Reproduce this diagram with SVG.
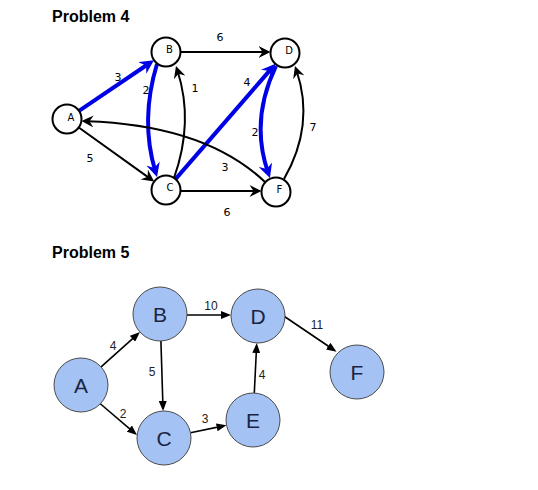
<svg xmlns="http://www.w3.org/2000/svg" width="538" height="490" viewBox="0 0 538 490">
<defs>
<style>
.title{font-family:"Liberation Sans",Arial,sans-serif;font-weight:bold;font-size:16px;fill:#000}
.n4{fill:#fff;stroke:#000;stroke-width:2}
.t4{font-family:"DejaVu Sans","Liberation Sans",sans-serif;font-size:10px;fill:#000;text-anchor:middle}
.l4{font-family:"DejaVu Sans","Liberation Sans",sans-serif;font-size:11px;fill:#000;text-anchor:middle}
.e4{fill:none;stroke:#000;stroke-width:2}
.b4{fill:none;stroke:#0000e6;stroke-width:4}
.n5{fill:#a4c2f4;stroke:#4a4a4a;stroke-width:1}
.t5{font-family:"Liberation Sans",Arial,sans-serif;font-size:21px;fill:#1b2542;text-anchor:middle}
.l5{font-family:"Liberation Sans",Arial,sans-serif;font-size:12px;fill:#222;text-anchor:middle}
.e5{fill:none;stroke:#000;stroke-width:1.6}
</style>
<marker id="ak" markerUnits="userSpaceOnUse" markerWidth="12" markerHeight="12" viewBox="0 0 12 12" refX="7" refY="6" orient="auto">
<path d="M0,0 L12,6 L0,12 L4,6 z" fill="#000"/>
</marker>
<marker id="ab" markerUnits="userSpaceOnUse" markerWidth="14" markerHeight="14" viewBox="0 0 14 14" refX="8" refY="7" orient="auto">
<path d="M0,0 L14,7 L0,14 L4.5,7 z" fill="#0000e6"/>
</marker>
<marker id="as" markerUnits="userSpaceOnUse" markerWidth="10" markerHeight="8" viewBox="0 0 10 8" refX="7" refY="4" orient="auto">
<path d="M0,0 L10,4 L0,8 z" fill="#000"/>
</marker>
</defs>
<rect width="538" height="490" fill="#fff"/>

<text class="title" x="52" y="22">Problem 4</text>
<text class="title" x="52" y="258">Problem 5</text>

<g id="connectors4">
<path class="b4" d="M79,110.9 L149,63.5" marker-end="url(#ab)"/>
<path class="e4" d="M78.8,127.5 L150.1,178.6" marker-end="url(#ak)"/>
<path class="e4" d="M181,52 L265.5,52" marker-end="url(#ak)"/>
<path class="e4" d="M180.5,191 L256.5,191" marker-end="url(#ak)"/>
<path class="b4" d="M175.5,179.1 L271.6,68.4" marker-end="url(#ab)"/>
<path class="b4" d="M157,64 Q140,120 155.3,171.3" marker-end="url(#ab)"/>
<path class="e4" d="M174,178 Q194,122 177.5,70.8" marker-end="url(#ak)"/>
<path class="e4" d="M265,182 Q205,125 86.5,121.2" marker-end="url(#ak)"/>
<path class="b4" d="M276,66 Q250,120 268,172.3" marker-end="url(#ab)"/>
<path class="e4" d="M284,179 Q315,125 296.6,70.7" marker-end="url(#ak)"/>
<text class="l4" x="118" y="81">3</text>
<text class="l4" x="146" y="94">2</text>
<text class="l4" x="195" y="92">1</text>
<text class="l4" x="220" y="41">6</text>
<text class="l4" x="90" y="162">5</text>
<text class="l4" x="225" y="171">3</text>
<text class="l4" x="247" y="86">4</text>
<text class="l4" x="255" y="136">2</text>
<text class="l4" x="313" y="131">7</text>
<text class="l4" x="227" y="216">6</text>
</g>

<g id="p4-A"><circle class="n4" cx="67" cy="119" r="14.5"/><text class="t4" x="71" y="121">A</text></g>
<g id="p4-B"><circle class="n4" cx="166" cy="52" r="14.5"/><text class="t4" x="169.5" y="53">B</text></g>
<g id="p4-D"><circle class="n4" cx="285" cy="53" r="14.5"/><text class="t4" x="289" y="54">D</text></g>
<g id="p4-C"><circle class="n4" cx="166" cy="190" r="14.5"/><text class="t4" x="170" y="191">C</text></g>
<g id="p4-F"><circle class="n4" cx="276" cy="192" r="14.5"/><text class="t4" x="279.5" y="193">F</text></g>

<g id="connectors5">
<path class="e5" d="M101.1,366.9 L137.7,334.1" marker-end="url(#as)"/>
<path class="e5" d="M100,403.5 L134.7,433.1" marker-end="url(#as)"/>
<path class="e5" d="M160.9,341 L163,408" marker-end="url(#as)"/>
<path class="e5" d="M187,315 L228,315" marker-end="url(#as)"/>
<path class="e5" d="M190.5,432.7 L223.6,425.9" marker-end="url(#as)"/>
<path class="e5" d="M254.3,393 L256.6,346" marker-end="url(#as)"/>
<path class="e5" d="M283,315.5 L334,350" marker-end="url(#as)"/>
<text class="l5" x="113" y="350">4</text>
<text class="l5" x="123" y="417.5">2</text>
<text class="l5" x="152" y="376">5</text>
<text class="l5" x="211" y="310">10</text>
<text class="l5" x="205" y="423">3</text>
<text class="l5" x="262" y="379">4</text>
<text class="l5" x="317" y="329">11</text>
</g>

<g id="p5-A"><circle class="n5" cx="81" cy="385" r="27"/><text class="t5" x="81" y="392.5">A</text></g>
<g id="p5-B"><circle class="n5" cx="160" cy="314" r="27"/><text class="t5" x="160" y="321.5">B</text></g>
<g id="p5-C"><circle class="n5" cx="164" cy="438" r="27"/><text class="t5" x="164" y="445.5">C</text></g>
<g id="p5-D"><circle class="n5" cx="258" cy="316" r="27"/><text class="t5" x="258" y="323.5">D</text></g>
<g id="p5-E"><circle class="n5" cx="253" cy="420" r="27"/><text class="t5" x="253" y="427.5">E</text></g>
<g id="p5-F"><circle class="n5" cx="357" cy="372" r="27"/><text class="t5" x="357" y="379.5">F</text></g>
</svg>
